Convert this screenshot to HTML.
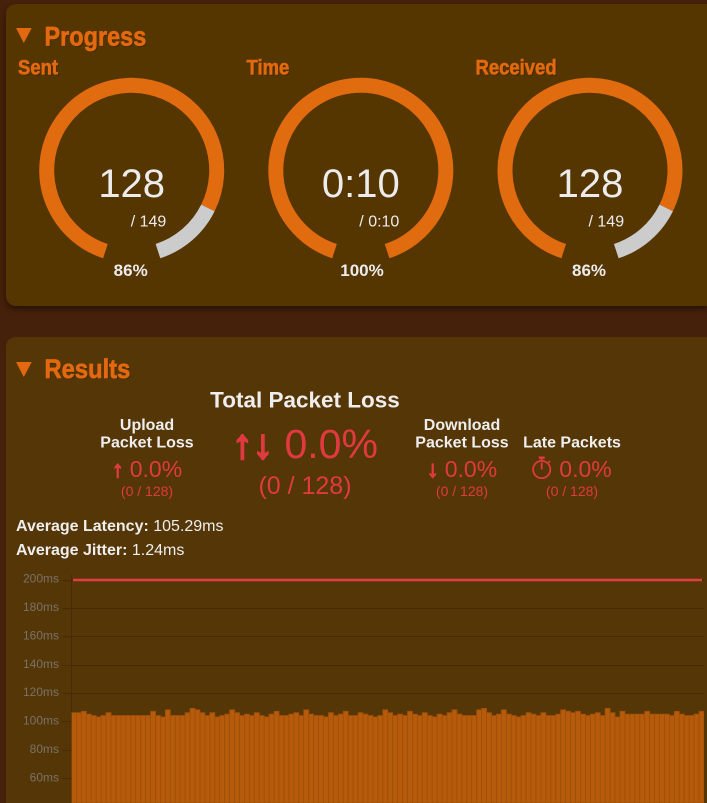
<!DOCTYPE html>
<html><head><meta charset="utf-8">
<style>
html,body{margin:0;padding:0;background:#45200a;width:707px;height:803px;overflow:hidden;}
svg{display:block;font-family:"Liberation Sans",Arial,sans-serif;}
</style></head>
<body>
<svg width="707" height="803" viewBox="0 0 707 803" xmlns="http://www.w3.org/2000/svg">
<defs>
<filter id="sh" x="-5%" y="-5%" width="110%" height="120%">
<feDropShadow dx="0" dy="3" stdDeviation="3" flood-color="#000" flood-opacity="0.45"/>
</filter>
</defs>
<rect width="707" height="803" fill="#45200a"/>
<path d="M16,4 H707 V306 H16 A10,10 0 0 1 6,296 V14 A10,10 0 0 1 16,4 Z" fill="#553606" filter="url(#sh)"/>
<path d="M16,337 H707 V803 H6 V347 A10,10 0 0 1 16,337 Z" fill="#553606"/>

<!-- Progress title -->
<polygon points="16,28 31.7,28 23.8,43" fill="#e2690f"/>
<text transform="translate(45.5,46.5) scale(0.87,1)" font-size="27" font-weight="bold" fill="#000" fill-opacity="0.3">Progress</text>
<text transform="translate(44.5,45.5) scale(0.87,1)" font-size="27" font-weight="bold" fill="#e2690f" stroke="#e2690f" stroke-width="0.7">Progress</text>

<g font-size="21" font-weight="bold">
<text transform="translate(19,75.5) scale(0.88,1)" fill="#000" fill-opacity="0.3">Sent</text>
<text transform="translate(18,74.5) scale(0.88,1)" fill="#e2690f" stroke="#e2690f" stroke-width="0.6">Sent</text>
<text transform="translate(247.5,75.5) scale(0.88,1)" fill="#000" fill-opacity="0.3">Time</text>
<text transform="translate(246.5,74.5) scale(0.88,1)" fill="#e2690f" stroke="#e2690f" stroke-width="0.6">Time</text>
<text transform="translate(476.5,75.5) scale(0.88,1)" fill="#000" fill-opacity="0.3">Received</text>
<text transform="translate(475.5,74.5) scale(0.88,1)" fill="#e2690f" stroke="#e2690f" stroke-width="0.6">Received</text>
</g>

<!-- Gauges -->
<g fill="none" stroke-width="15">
<path d="M105.43 251.14 A85 85 0 1 1 207.9 207.96" stroke="#e06c0f"/>
<path d="M207.9 207.96 A85 85 0 0 1 157.97 251.14" stroke="#cccccc"/>
<path d="M334.53 251.14 A85 85 0 1 1 387.07 251.14" stroke="#e06c0f"/>
<path d="M563.73 251.14 A85 85 0 1 1 666.2 207.96" stroke="#e06c0f"/>
<path d="M666.2 207.96 A85 85 0 0 1 616.27 251.14" stroke="#cccccc"/>
</g>
<g fill="#ececec">
<text x="131.7" y="197" font-size="40" text-anchor="middle">128</text>
<text x="130.7" y="226.5" font-size="16">/ 149</text>
<text x="360.8" y="197" font-size="40" text-anchor="middle">0:10</text>
<text x="359.3" y="226.5" font-size="16">/ 0:10</text>
<text x="590" y="197" font-size="40" text-anchor="middle">128</text>
<text x="588.5" y="226.5" font-size="16">/ 149</text>
<g font-size="17" font-weight="bold" text-anchor="middle">
<text x="130.7" y="276">86%</text>
<text x="362" y="276">100%</text>
<text x="589" y="276">86%</text>
</g>
</g>

<!-- Results title -->
<polygon points="16,362 31.7,362 23.8,377" fill="#e2690f"/>
<text transform="translate(45.5,379) scale(0.88,1)" font-size="27" font-weight="bold" fill="#000" fill-opacity="0.3">Results</text>
<text transform="translate(44.5,378) scale(0.88,1)" font-size="27" font-weight="bold" fill="#e2690f" stroke="#e2690f" stroke-width="0.7">Results</text>

<text x="305" y="407.5" font-size="22.5" font-weight="bold" fill="#eeeeee" text-anchor="middle">Total Packet Loss</text>

<g font-size="16" font-weight="bold" fill="#eeeeee" text-anchor="middle">
<text x="147" y="430">Upload</text>
<text x="147" y="447.5">Packet Loss</text>
<text x="462" y="430">Download</text>
<text x="462" y="447.5">Packet Loss</text>
<text x="572" y="447.5">Late Packets</text>
</g>

<g fill="#e03a40" text-anchor="middle">
<text x="147" y="477" font-size="23"><tspan stroke="#e03a40" stroke-width="1.3">↑</tspan> 0.0%</text>
<text x="147" y="496" font-size="14">(0 / 128)</text>
<text x="305" y="458" font-size="41"><tspan stroke="#e03a40" stroke-width="2">↑↓</tspan> 0.0%</text>
<text x="305" y="494" font-size="25">(0 / 128)</text>
<text x="462" y="477" font-size="23"><tspan stroke="#e03a40" stroke-width="1.3">↓</tspan> 0.0%</text>
<text x="462" y="496" font-size="14">(0 / 128)</text>
<text x="572" y="496" font-size="14">(0 / 128)</text>
<text x="559.3" y="477" font-size="23" text-anchor="start">0.0%</text>
</g>
<!-- stopwatch icon -->
<g stroke="#e03a40" fill="none" stroke-width="1.8">
<circle cx="541.7" cy="469.5" r="8.6"/>
<line x1="541.7" y1="469.5" x2="541.7" y2="462.5"/>
<line x1="541.7" y1="460.9" x2="541.7" y2="458.5"/>
<line x1="548.5" y1="462.5" x2="550" y2="461"/>
</g>
<rect x="538.7" y="456.5" width="6" height="2.4" fill="#e03a40"/>

<g font-size="16" fill="#eeeeee">
<text x="16" y="531"><tspan font-weight="bold">Average Latency:</tspan> 105.29ms</text>
<text x="16" y="555"><tspan font-weight="bold">Average Jitter:</tspan> 1.24ms</text>
</g>

<!-- Chart -->
<g stroke="#472b05" stroke-width="1">
<line x1="62" y1="580.5" x2="704" y2="580.5"/>
<line x1="62" y1="608.5" x2="704" y2="608.5"/>
<line x1="62" y1="636.5" x2="704" y2="636.5"/>
<line x1="62" y1="665.5" x2="704" y2="665.5"/>
<line x1="62" y1="693.5" x2="704" y2="693.5"/>
<line x1="62" y1="721.5" x2="704" y2="721.5"/>
<line x1="62" y1="750.5" x2="704" y2="750.5"/>
<line x1="62" y1="778.5" x2="704" y2="778.5"/>
<line x1="71.5" y1="575" x2="71.5" y2="803"/>
</g>
<g font-size="12" fill="#7a7268" text-anchor="end">
<text x="59" y="582.5">200ms</text>
<text x="59" y="611">180ms</text>
<text x="59" y="639.5">160ms</text>
<text x="59" y="668">140ms</text>
<text x="59" y="696">120ms</text>
<text x="59" y="724.5">100ms</text>
<text x="59" y="753">80ms</text>
<text x="59" y="781.5">60ms</text>
</g>
<svg x="71.5" y="0" width="632.5" height="803" viewBox="0 0 128 803" preserveAspectRatio="none" overflow="hidden">
<g fill="#b55b0b" stroke="#9f4f09" stroke-width="0.8">
<rect x="0" y="712.7" width="1" height="90.3" vector-effect="non-scaling-stroke"/>
<rect x="1" y="712.7" width="1" height="90.3" vector-effect="non-scaling-stroke"/>
<rect x="2" y="711.3" width="1" height="91.7" vector-effect="non-scaling-stroke"/>
<rect x="3" y="714.1" width="1" height="88.9" vector-effect="non-scaling-stroke"/>
<rect x="4" y="715.5" width="1" height="87.5" vector-effect="non-scaling-stroke"/>
<rect x="5" y="716.9" width="1" height="86.1" vector-effect="non-scaling-stroke"/>
<rect x="6" y="715.5" width="1" height="87.5" vector-effect="non-scaling-stroke"/>
<rect x="7" y="712.7" width="1" height="90.3" vector-effect="non-scaling-stroke"/>
<rect x="8" y="715.5" width="1" height="87.5" vector-effect="non-scaling-stroke"/>
<rect x="9" y="715.5" width="1" height="87.5" vector-effect="non-scaling-stroke"/>
<rect x="10" y="715.5" width="1" height="87.5" vector-effect="non-scaling-stroke"/>
<rect x="11" y="715.5" width="1" height="87.5" vector-effect="non-scaling-stroke"/>
<rect x="12" y="715.5" width="1" height="87.5" vector-effect="non-scaling-stroke"/>
<rect x="13" y="715.5" width="1" height="87.5" vector-effect="non-scaling-stroke"/>
<rect x="14" y="715.5" width="1" height="87.5" vector-effect="non-scaling-stroke"/>
<rect x="15" y="715.5" width="1" height="87.5" vector-effect="non-scaling-stroke"/>
<rect x="16" y="711.3" width="1" height="91.7" vector-effect="non-scaling-stroke"/>
<rect x="17" y="715.5" width="1" height="87.5" vector-effect="non-scaling-stroke"/>
<rect x="18" y="716.9" width="1" height="86.1" vector-effect="non-scaling-stroke"/>
<rect x="19" y="709.8" width="1" height="93.2" vector-effect="non-scaling-stroke"/>
<rect x="20" y="715.5" width="1" height="87.5" vector-effect="non-scaling-stroke"/>
<rect x="21" y="715.5" width="1" height="87.5" vector-effect="non-scaling-stroke"/>
<rect x="22" y="715.5" width="1" height="87.5" vector-effect="non-scaling-stroke"/>
<rect x="23" y="712.7" width="1" height="90.3" vector-effect="non-scaling-stroke"/>
<rect x="24" y="708.4" width="1" height="94.6" vector-effect="non-scaling-stroke"/>
<rect x="25" y="709.8" width="1" height="93.2" vector-effect="non-scaling-stroke"/>
<rect x="26" y="712.7" width="1" height="90.3" vector-effect="non-scaling-stroke"/>
<rect x="27" y="715.5" width="1" height="87.5" vector-effect="non-scaling-stroke"/>
<rect x="28" y="712.7" width="1" height="90.3" vector-effect="non-scaling-stroke"/>
<rect x="29" y="716.9" width="1" height="86.1" vector-effect="non-scaling-stroke"/>
<rect x="30" y="715.5" width="1" height="87.5" vector-effect="non-scaling-stroke"/>
<rect x="31" y="714.1" width="1" height="88.9" vector-effect="non-scaling-stroke"/>
<rect x="32" y="709.8" width="1" height="93.2" vector-effect="non-scaling-stroke"/>
<rect x="33" y="712.7" width="1" height="90.3" vector-effect="non-scaling-stroke"/>
<rect x="34" y="715.5" width="1" height="87.5" vector-effect="non-scaling-stroke"/>
<rect x="35" y="714.1" width="1" height="88.9" vector-effect="non-scaling-stroke"/>
<rect x="36" y="715.5" width="1" height="87.5" vector-effect="non-scaling-stroke"/>
<rect x="37" y="712.7" width="1" height="90.3" vector-effect="non-scaling-stroke"/>
<rect x="38" y="715.5" width="1" height="87.5" vector-effect="non-scaling-stroke"/>
<rect x="39" y="716.9" width="1" height="86.1" vector-effect="non-scaling-stroke"/>
<rect x="40" y="714.1" width="1" height="88.9" vector-effect="non-scaling-stroke"/>
<rect x="41" y="711.3" width="1" height="91.7" vector-effect="non-scaling-stroke"/>
<rect x="42" y="715.5" width="1" height="87.5" vector-effect="non-scaling-stroke"/>
<rect x="43" y="715.5" width="1" height="87.5" vector-effect="non-scaling-stroke"/>
<rect x="44" y="714.1" width="1" height="88.9" vector-effect="non-scaling-stroke"/>
<rect x="45" y="712.7" width="1" height="90.3" vector-effect="non-scaling-stroke"/>
<rect x="46" y="715.5" width="1" height="87.5" vector-effect="non-scaling-stroke"/>
<rect x="47" y="709.8" width="1" height="93.2" vector-effect="non-scaling-stroke"/>
<rect x="48" y="714.1" width="1" height="88.9" vector-effect="non-scaling-stroke"/>
<rect x="49" y="715.5" width="1" height="87.5" vector-effect="non-scaling-stroke"/>
<rect x="50" y="715.5" width="1" height="87.5" vector-effect="non-scaling-stroke"/>
<rect x="51" y="716.9" width="1" height="86.1" vector-effect="non-scaling-stroke"/>
<rect x="52" y="712.7" width="1" height="90.3" vector-effect="non-scaling-stroke"/>
<rect x="53" y="715.5" width="1" height="87.5" vector-effect="non-scaling-stroke"/>
<rect x="54" y="714.1" width="1" height="88.9" vector-effect="non-scaling-stroke"/>
<rect x="55" y="711.3" width="1" height="91.7" vector-effect="non-scaling-stroke"/>
<rect x="56" y="715.5" width="1" height="87.5" vector-effect="non-scaling-stroke"/>
<rect x="57" y="715.5" width="1" height="87.5" vector-effect="non-scaling-stroke"/>
<rect x="58" y="712.7" width="1" height="90.3" vector-effect="non-scaling-stroke"/>
<rect x="59" y="714.1" width="1" height="88.9" vector-effect="non-scaling-stroke"/>
<rect x="60" y="715.5" width="1" height="87.5" vector-effect="non-scaling-stroke"/>
<rect x="61" y="716.9" width="1" height="86.1" vector-effect="non-scaling-stroke"/>
<rect x="62" y="715.5" width="1" height="87.5" vector-effect="non-scaling-stroke"/>
<rect x="63" y="709.8" width="1" height="93.2" vector-effect="non-scaling-stroke"/>
<rect x="64" y="712.7" width="1" height="90.3" vector-effect="non-scaling-stroke"/>
<rect x="65" y="715.5" width="1" height="87.5" vector-effect="non-scaling-stroke"/>
<rect x="66" y="714.1" width="1" height="88.9" vector-effect="non-scaling-stroke"/>
<rect x="67" y="715.5" width="1" height="87.5" vector-effect="non-scaling-stroke"/>
<rect x="68" y="711.3" width="1" height="91.7" vector-effect="non-scaling-stroke"/>
<rect x="69" y="714.1" width="1" height="88.9" vector-effect="non-scaling-stroke"/>
<rect x="70" y="715.5" width="1" height="87.5" vector-effect="non-scaling-stroke"/>
<rect x="71" y="712.7" width="1" height="90.3" vector-effect="non-scaling-stroke"/>
<rect x="72" y="715.5" width="1" height="87.5" vector-effect="non-scaling-stroke"/>
<rect x="73" y="716.9" width="1" height="86.1" vector-effect="non-scaling-stroke"/>
<rect x="74" y="714.1" width="1" height="88.9" vector-effect="non-scaling-stroke"/>
<rect x="75" y="715.5" width="1" height="87.5" vector-effect="non-scaling-stroke"/>
<rect x="76" y="712.7" width="1" height="90.3" vector-effect="non-scaling-stroke"/>
<rect x="77" y="709.8" width="1" height="93.2" vector-effect="non-scaling-stroke"/>
<rect x="78" y="714.1" width="1" height="88.9" vector-effect="non-scaling-stroke"/>
<rect x="79" y="715.5" width="1" height="87.5" vector-effect="non-scaling-stroke"/>
<rect x="80" y="715.5" width="1" height="87.5" vector-effect="non-scaling-stroke"/>
<rect x="81" y="715.5" width="1" height="87.5" vector-effect="non-scaling-stroke"/>
<rect x="82" y="709.8" width="1" height="93.2" vector-effect="non-scaling-stroke"/>
<rect x="83" y="708.4" width="1" height="94.6" vector-effect="non-scaling-stroke"/>
<rect x="84" y="712.7" width="1" height="90.3" vector-effect="non-scaling-stroke"/>
<rect x="85" y="715.5" width="1" height="87.5" vector-effect="non-scaling-stroke"/>
<rect x="86" y="714.1" width="1" height="88.9" vector-effect="non-scaling-stroke"/>
<rect x="87" y="709.8" width="1" height="93.2" vector-effect="non-scaling-stroke"/>
<rect x="88" y="714.1" width="1" height="88.9" vector-effect="non-scaling-stroke"/>
<rect x="89" y="715.5" width="1" height="87.5" vector-effect="non-scaling-stroke"/>
<rect x="90" y="716.9" width="1" height="86.1" vector-effect="non-scaling-stroke"/>
<rect x="91" y="715.5" width="1" height="87.5" vector-effect="non-scaling-stroke"/>
<rect x="92" y="712.7" width="1" height="90.3" vector-effect="non-scaling-stroke"/>
<rect x="93" y="714.1" width="1" height="88.9" vector-effect="non-scaling-stroke"/>
<rect x="94" y="715.5" width="1" height="87.5" vector-effect="non-scaling-stroke"/>
<rect x="95" y="712.7" width="1" height="90.3" vector-effect="non-scaling-stroke"/>
<rect x="96" y="715.5" width="1" height="87.5" vector-effect="non-scaling-stroke"/>
<rect x="97" y="715.5" width="1" height="87.5" vector-effect="non-scaling-stroke"/>
<rect x="98" y="714.1" width="1" height="88.9" vector-effect="non-scaling-stroke"/>
<rect x="99" y="709.8" width="1" height="93.2" vector-effect="non-scaling-stroke"/>
<rect x="100" y="711.3" width="1" height="91.7" vector-effect="non-scaling-stroke"/>
<rect x="101" y="712.7" width="1" height="90.3" vector-effect="non-scaling-stroke"/>
<rect x="102" y="711.3" width="1" height="91.7" vector-effect="non-scaling-stroke"/>
<rect x="103" y="714.1" width="1" height="88.9" vector-effect="non-scaling-stroke"/>
<rect x="104" y="715.5" width="1" height="87.5" vector-effect="non-scaling-stroke"/>
<rect x="105" y="714.1" width="1" height="88.9" vector-effect="non-scaling-stroke"/>
<rect x="106" y="712.7" width="1" height="90.3" vector-effect="non-scaling-stroke"/>
<rect x="107" y="715.5" width="1" height="87.5" vector-effect="non-scaling-stroke"/>
<rect x="108" y="708.4" width="1" height="94.6" vector-effect="non-scaling-stroke"/>
<rect x="109" y="712.7" width="1" height="90.3" vector-effect="non-scaling-stroke"/>
<rect x="110" y="716.9" width="1" height="86.1" vector-effect="non-scaling-stroke"/>
<rect x="111" y="711.3" width="1" height="91.7" vector-effect="non-scaling-stroke"/>
<rect x="112" y="714.1" width="1" height="88.9" vector-effect="non-scaling-stroke"/>
<rect x="113" y="714.1" width="1" height="88.9" vector-effect="non-scaling-stroke"/>
<rect x="114" y="714.1" width="1" height="88.9" vector-effect="non-scaling-stroke"/>
<rect x="115" y="714.1" width="1" height="88.9" vector-effect="non-scaling-stroke"/>
<rect x="116" y="711.3" width="1" height="91.7" vector-effect="non-scaling-stroke"/>
<rect x="117" y="714.1" width="1" height="88.9" vector-effect="non-scaling-stroke"/>
<rect x="118" y="714.1" width="1" height="88.9" vector-effect="non-scaling-stroke"/>
<rect x="119" y="714.1" width="1" height="88.9" vector-effect="non-scaling-stroke"/>
<rect x="120" y="714.1" width="1" height="88.9" vector-effect="non-scaling-stroke"/>
<rect x="121" y="715.5" width="1" height="87.5" vector-effect="non-scaling-stroke"/>
<rect x="122" y="711.3" width="1" height="91.7" vector-effect="non-scaling-stroke"/>
<rect x="123" y="714.1" width="1" height="88.9" vector-effect="non-scaling-stroke"/>
<rect x="124" y="715.5" width="1" height="87.5" vector-effect="non-scaling-stroke"/>
<rect x="125" y="715.5" width="1" height="87.5" vector-effect="non-scaling-stroke"/>
<rect x="126" y="714.1" width="1" height="88.9" vector-effect="non-scaling-stroke"/>
<rect x="127" y="711.3" width="1" height="91.7" vector-effect="non-scaling-stroke"/>
</g>
</svg>
<line x1="73" y1="580" x2="702" y2="580" stroke="#e43c46" stroke-width="2.6"/>
</svg>
</body></html>
